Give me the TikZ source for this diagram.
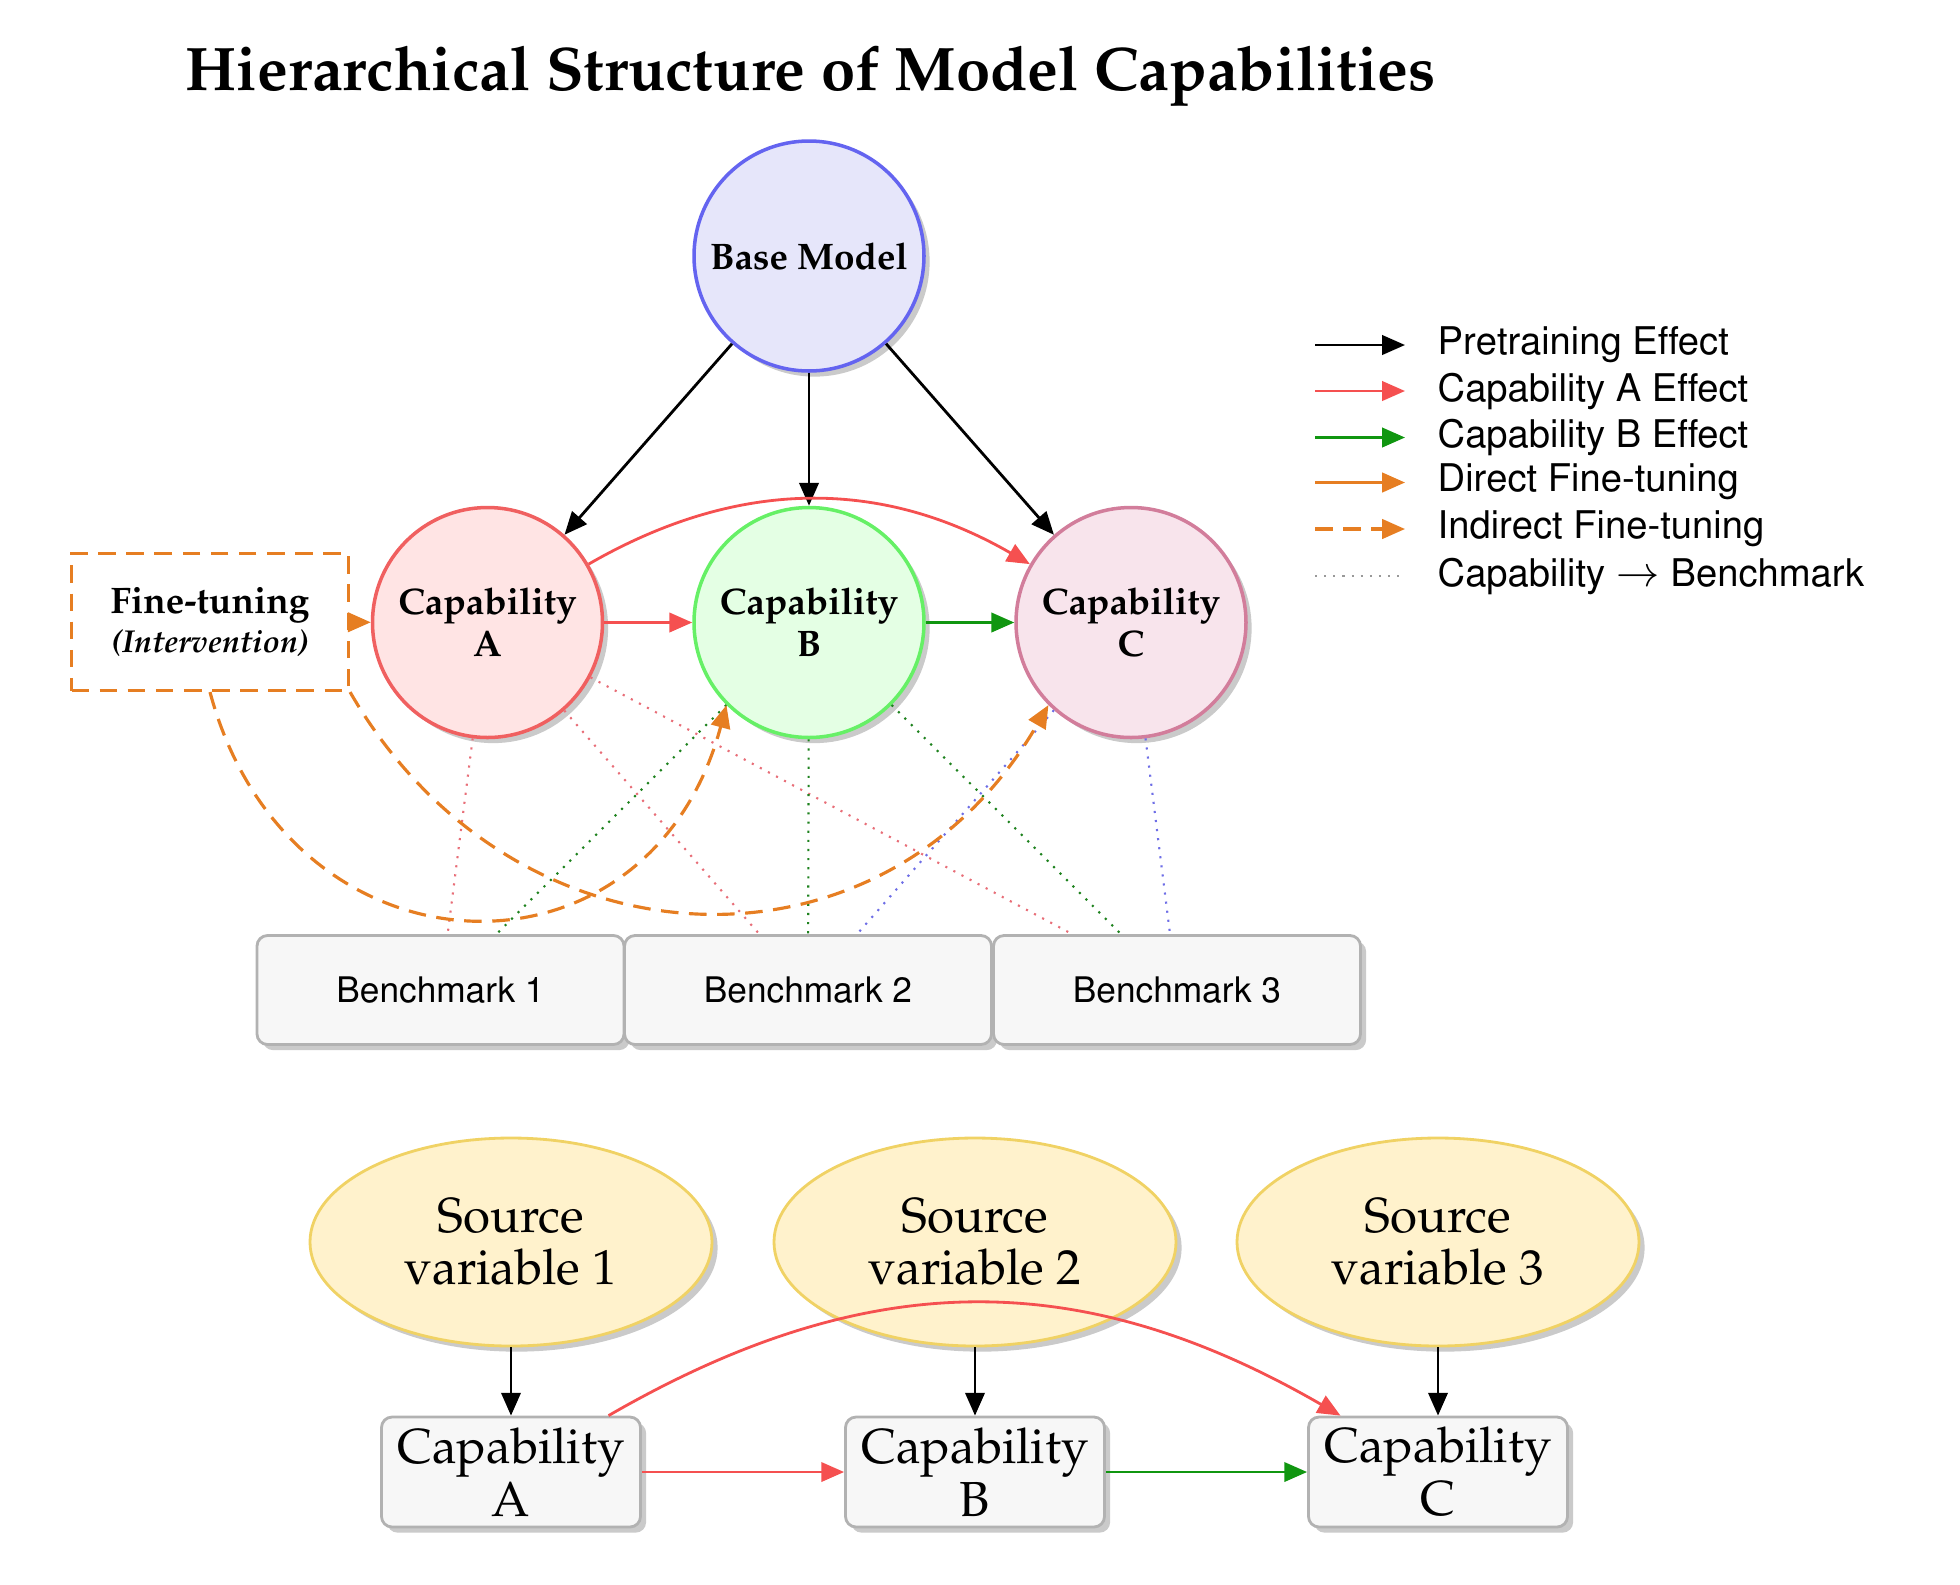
\documentclass[tikz,border=0pt]{standalone}
\usepackage[T1]{fontenc}
\usepackage{mathpazo}
\usepackage[scaled=0.92]{helvet}
\usepackage{amsmath}
\usetikzlibrary{arrows.meta,shapes.geometric,shadows}
\newcommand{\capsize}{2.3cm}

\definecolor{basefill}{RGB}{230,230,250}
\definecolor{basedraw}{RGB}{100,100,240}
\definecolor{afill}{RGB}{255,228,228}
\definecolor{adraw}{RGB}{240,96,96}
\definecolor{bfill}{RGB}{228,255,228}
\definecolor{bdraw}{RGB}{102,240,102}
\definecolor{cfill}{RGB}{248,228,236}
\definecolor{cdraw}{RGB}{210,125,155}
\definecolor{srcfill}{RGB}{255,242,204}
\definecolor{srcdraw}{RGB}{240,210,100}
\definecolor{ftorange}{RGB}{230,126,34}
\definecolor{capred}{RGB}{245,80,80}
\definecolor{capgreen}{RGB}{16,150,16}
\definecolor{dotred}{RGB}{232,110,120}
\definecolor{dotgreen}{RGB}{30,130,30}
\definecolor{dotblue}{RGB}{110,110,230}

\tikzset{
  shade/.style={drop shadow={shadow xshift=1.6pt,shadow yshift=-1.6pt,opacity=.35,fill=black!60}},
  capnode/.style={circle, minimum size=\capsize, line width=1pt, align=center, shade,
    font=\fontsize{10.5}{12}\selectfont\bfseries},
  benchbox/.style={rectangle, rounded corners=3pt, draw=black!30, fill=black!3, line width=.8pt,
    minimum width=3.67cm, minimum height=1.09cm, font=\sffamily\fontsize{10.9}{13}\selectfont, shade},
  srcnode/.style={ellipse, draw=srcdraw, fill=srcfill, line width=.8pt, minimum width=4.02cm,
    minimum height=2.08cm, align=center, font=\fontsize{14}{15}\selectfont, shade},
  capbox/.style={rectangle, rounded corners=3pt, draw=black!30, fill=black!3, line width=.8pt,
    minimum width=2.59cm, minimum height=1.1cm, inner sep=1pt, align=center,
    font=\fontsize{14}{15}\selectfont, shade},
  tri/.style={-{Triangle[length=6.5pt,width=5.5pt]}},
  pretrain/.style={tri, line width=.8pt, black},
  effa/.style={tri, line width=.8pt, capred},
  effb/.style={tri, line width=.8pt, capgreen},
  direct/.style={tri, line width=.9pt, ftorange},
  indirect/.style={tri, line width=.9pt, ftorange, dash pattern=on 5pt off 3pt},
  dota/.style={dotted, line width=.6pt, dotred},
  dotb/.style={dotted, line width=.6pt, dotgreen},
  dotc/.style={dotted, line width=.6pt, dotblue},
  dotleg/.style={dotted, line width=.6pt, black!40},
  legtext/.style={anchor=west, font=\sffamily\fontsize{11.8}{13}\selectfont, inner sep=0pt}
}

\begin{document}
\begin{tikzpicture}
  \useasboundingbox (0,0) rectangle (19.6,-15.84);

  \node (title) at (1.85,-0.9) [anchor=base west, inner sep=0pt,
        font=\fontsize{17.5}{21}\selectfont\bfseries] {Hierarchical Structure of Model Capabilities};

  % upper graph
  \node (base) at (8.09,-2.56)  [capnode, draw=basedraw, fill=basefill] {Base Model};
  \node (capa) at (4.875,-6.225) [capnode, draw=adraw, fill=afill] {Capability\\A};
  \node (capb) at (8.09,-6.225)  [capnode, draw=bdraw, fill=bfill] {Capability\\B};
  \node (capc) at (11.31,-6.225) [capnode, draw=cdraw, fill=cfill] {Capability\\C};
  \node (ft) at (2.10,-6.22) [rectangle, draw=ftorange, line width=.9pt, dash pattern=on 5pt off 3pt,
        minimum width=2.77cm, minimum height=1.37cm, align=center,
        font=\fontsize{10.5}{12}\selectfont\bfseries]
        {Fine-tuning\\[-1pt]{\fontsize{9}{11}\selectfont\itshape (Intervention)}};

  \node (bench1) at (4.405,-9.9)  [benchbox] {Benchmark 1};
  \node (bench2) at (8.08,-9.9)   [benchbox] {Benchmark 2};
  \node (bench3) at (11.77,-9.9)  [benchbox] {Benchmark 3};

  \draw[dota] (capa) -- (bench1);
  \draw[dota] (capa) -- (bench2);
  \draw[dota] (capa) -- (bench3);
  \draw[dotb] (capb) -- (bench1);
  \draw[dotb] (capb) -- (bench2);
  \draw[dotb] (capb) -- (bench3);
  \draw[dotc] (capc) -- (bench2);
  \draw[dotc] (capc) -- (bench3);

  \foreach \c in {capa,capb,capc}
    \draw[pretrain] (base) -- (\c);
  \draw[effa] (capa) -- (capb);
  \draw[effa] (capa) to[bend left=30] (capc);
  \draw[effb] (capb) -- (capc);
  \draw[direct] (ft) -- (capa);
  \draw[indirect] (ft.south) to[out=-75, in=-105, looseness=1.5] (capb.south west);
  \draw[indirect] (ft.south east) to[out=-60, in=-120, looseness=1.2] (capc.south west);

  % legend
  \foreach \i/\y/\sty/\txt in {1/3.45/pretrain/Pretraining Effect,
                               2/3.91/effa/Capability A Effect,
                               3/4.375/effb/Capability B Effect,
                               4/4.825/direct/Direct Fine-tuning,
                               5/5.29/indirect/Indirect Fine-tuning,
                               6/5.76/dotleg/Capability $\rightarrow$ Benchmark}
    {
      \coordinate (leg\i a) at (13.15,-\y);
      \coordinate (leg\i b) at (14.05,-\y);
      \draw[\sty] (leg\i a) -- (leg\i b);
      \node (leg\i) at (14.37,-\y) [legtext] {\txt};
    }

  % lower graph
  \node (src1) at (5.11,-12.42)  [srcnode] {Source\\variable 1};
  \node (src2) at (9.75,-12.42)  [srcnode] {Source\\variable 2};
  \node (src3) at (14.38,-12.42) [srcnode] {Source\\variable 3};
  \node (bcapa) at (5.11,-14.72)  [capbox] {Capability\\A};
  \node (bcapb) at (9.75,-14.72)  [capbox] {Capability\\B};
  \node (bcapc) at (14.38,-14.72) [capbox] {Capability\\C};

  \draw[pretrain] (src1) -- (bcapa);
  \draw[pretrain] (src2) -- (bcapb);
  \draw[pretrain] (src3) -- (bcapc);
  \draw[effa] (bcapa) -- (bcapb);
  \draw[effb] (bcapb) -- (bcapc);
  \draw[effa] (bcapa) to[bend left=30, looseness=1.05] (bcapc);
\end{tikzpicture}
\end{document}
